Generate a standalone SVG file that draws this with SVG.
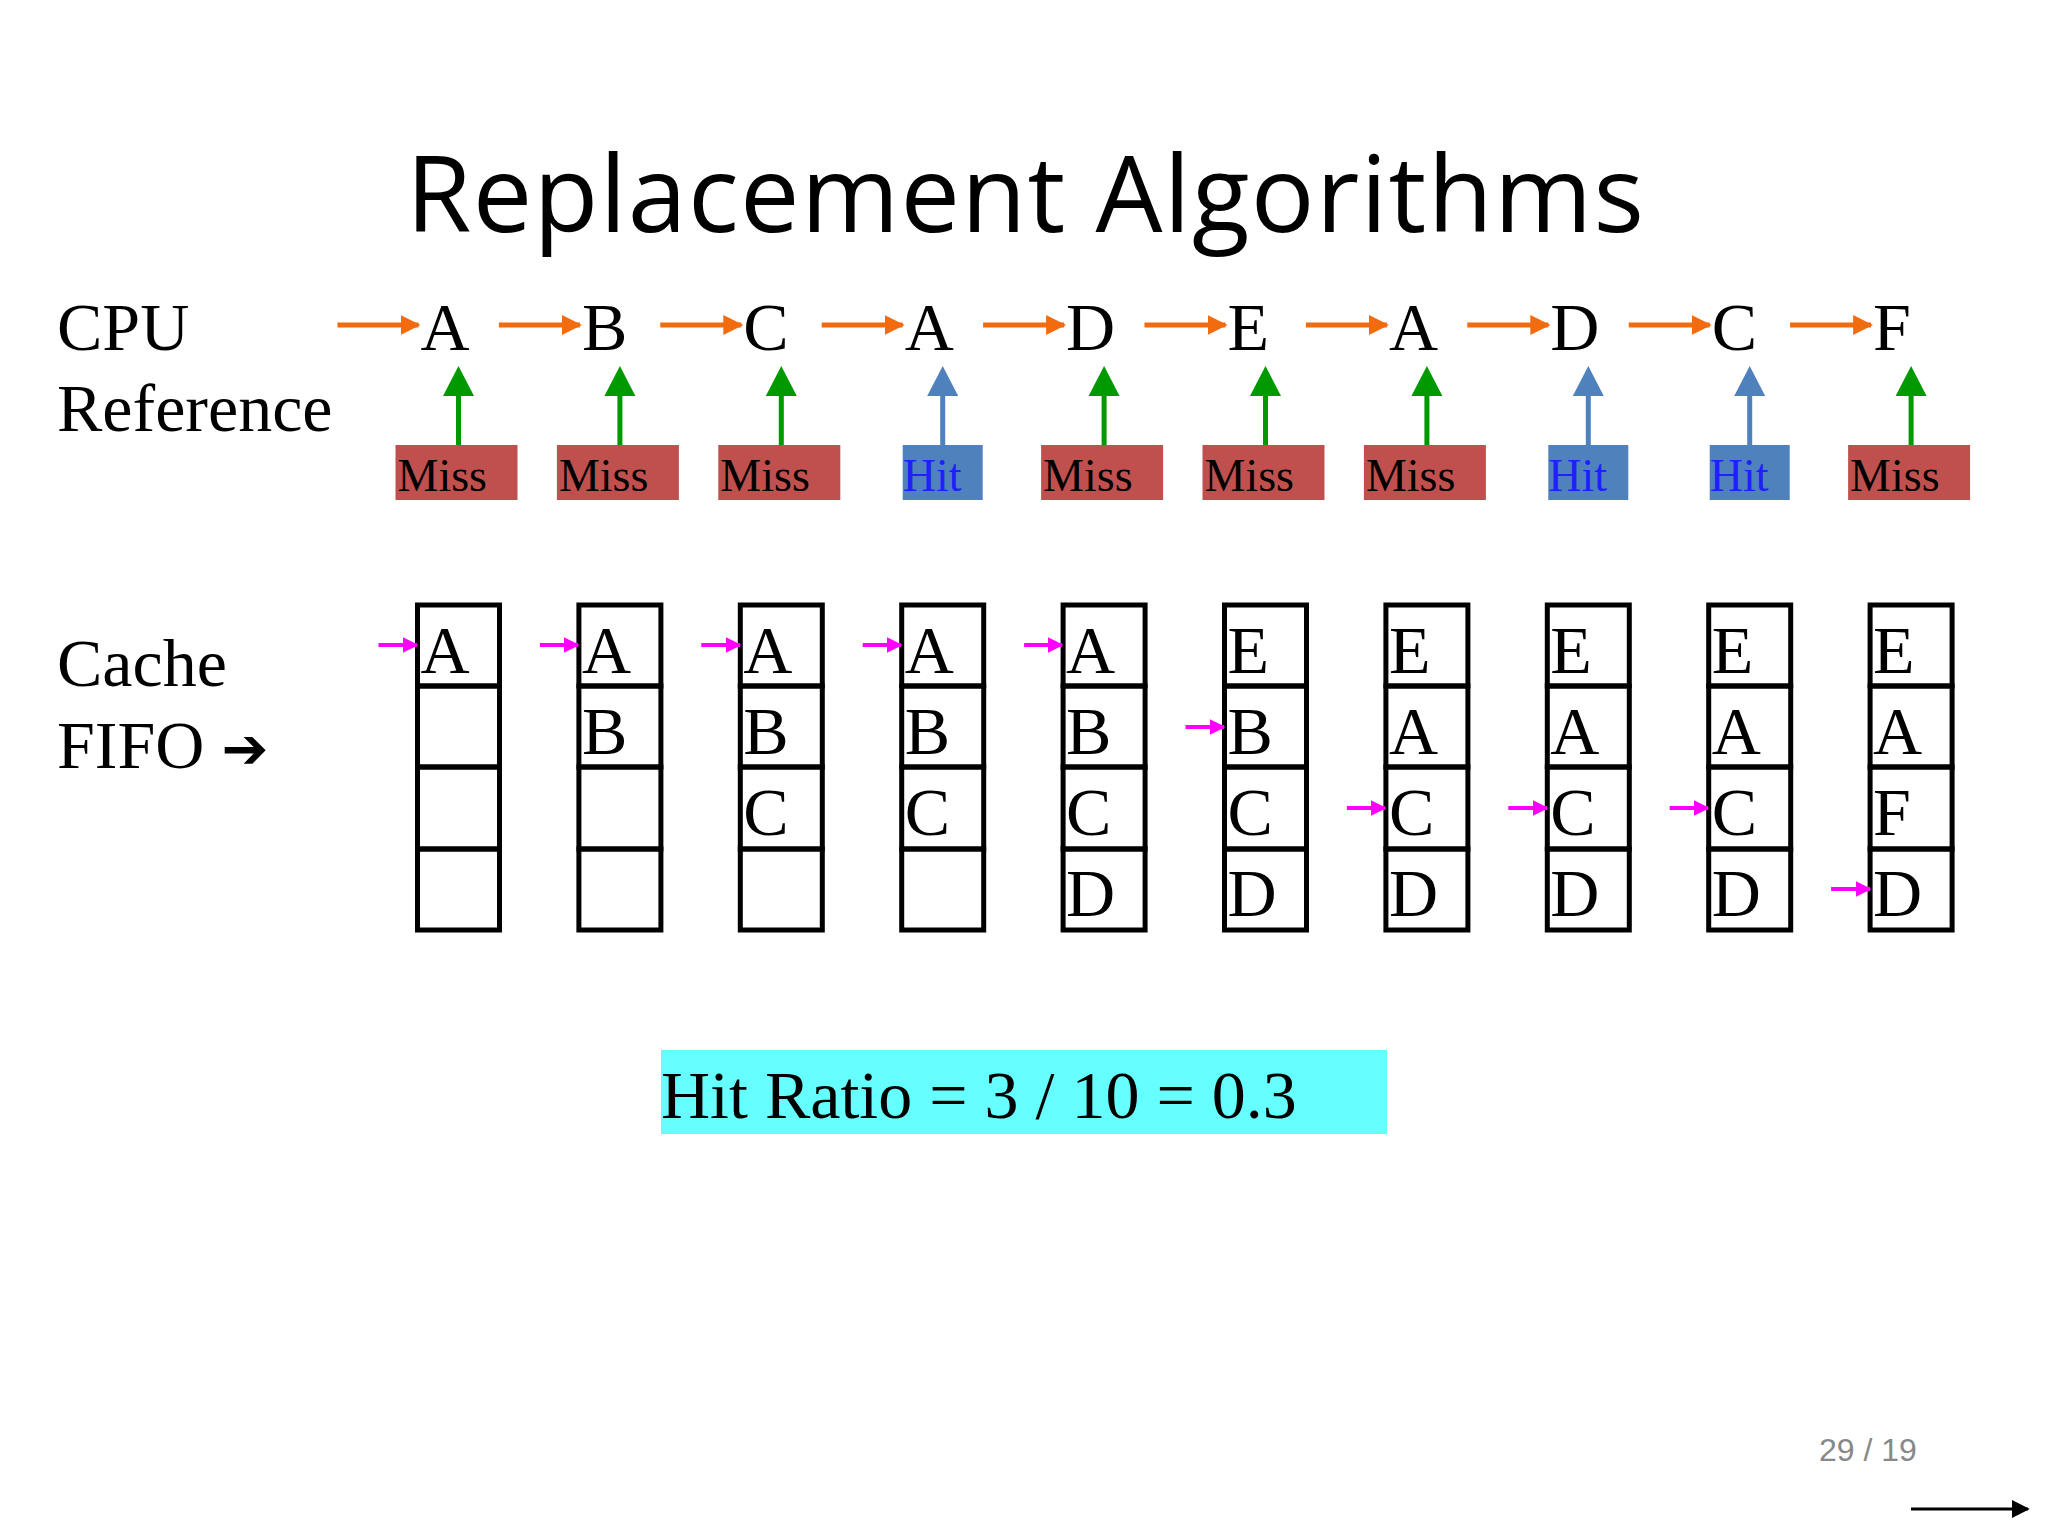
<svg xmlns="http://www.w3.org/2000/svg" width="2048" height="1536" viewBox="0 0 2048 1536">
<defs>
<style>
.t{font-family:"Liberation Serif",serif;fill:#000}
.big{font-size:68px}
.lbl{font-size:46px}
.cell{fill:none;stroke:#000;stroke-width:5}
.miss{fill:#c0504d}
.hit{fill:#4f81bd}
</style>
<marker id="ho" viewBox="0 0 10 10" refX="9" refY="5" markerWidth="4" markerHeight="4" orient="auto"><path d="M0,0L10,5L0,10z" fill="#f26b0f"/></marker>
<marker id="hm" viewBox="0 0 10 10" refX="9" refY="5" markerWidth="4" markerHeight="4" orient="auto"><path d="M0,0L10,5L0,10z" fill="#ff00ff"/></marker>
<marker id="hk" viewBox="0 0 10 10" refX="9" refY="5" markerWidth="6" markerHeight="6" orient="auto"><path d="M0,0L10,5L0,10z" fill="#000"/></marker>
</defs>
<rect width="2048" height="1536" fill="#fff"/>
<text x="1025" y="232" text-anchor="middle" font-family="Open Sans,sans-serif" font-size="106" textLength="1238" fill="#000">Replacement Algorithms</text>
<text class="t big" x="57" y="350">CPU</text>
<text class="t big" x="57" y="431">Reference</text>
<text class="t big" x="57" y="686">Cache</text>
<text class="t big" x="57" y="768">FIFO <tspan font-family="DejaVu Sans,sans-serif" font-size="56">➔</tspan></text>
<g id="cols">
<g id="c0" transform="translate(458.5,0)"><text class="t big" x="-38" y="350">A</text><rect class="miss" x="-63" y="445" width="122" height="55"/><text class="t lbl" x="-61" y="491">Miss</text></g>
<g id="c1" transform="translate(619.9,0)"><text class="t big" x="-38" y="350">B</text><rect class="miss" x="-63" y="445" width="122" height="55"/><text class="t lbl" x="-61" y="491">Miss</text></g>
<g id="c2" transform="translate(781.3,0)"><text class="t big" x="-38" y="350">C</text><rect class="miss" x="-63" y="445" width="122" height="55"/><text class="t lbl" x="-61" y="491">Miss</text></g>
<g id="c3" transform="translate(942.7,0)"><text class="t big" x="-38" y="350">A</text><rect class="hit" x="-40" y="445" width="80" height="55"/><text class="t lbl" x="-40" y="491" style="fill:#2020ff">Hit</text></g>
<g id="c4" transform="translate(1104.1,0)"><text class="t big" x="-38" y="350">D</text><rect class="miss" x="-63" y="445" width="122" height="55"/><text class="t lbl" x="-61" y="491">Miss</text></g>
<g id="c5" transform="translate(1265.5,0)"><text class="t big" x="-38" y="350">E</text><rect class="miss" x="-63" y="445" width="122" height="55"/><text class="t lbl" x="-61" y="491">Miss</text></g>
<g id="c6" transform="translate(1426.9,0)"><text class="t big" x="-38" y="350">A</text><rect class="miss" x="-63" y="445" width="122" height="55"/><text class="t lbl" x="-61" y="491">Miss</text></g>
<g id="c7" transform="translate(1588.3,0)"><text class="t big" x="-38" y="350">D</text><rect class="hit" x="-40" y="445" width="80" height="55"/><text class="t lbl" x="-40" y="491" style="fill:#2020ff">Hit</text></g>
<g id="c8" transform="translate(1749.7,0)"><text class="t big" x="-38" y="350">C</text><rect class="hit" x="-40" y="445" width="80" height="55"/><text class="t lbl" x="-40" y="491" style="fill:#2020ff">Hit</text></g>
<g id="c9" transform="translate(1911.1,0)"><text class="t big" x="-38" y="350">F</text><rect class="miss" x="-63" y="445" width="122" height="55"/><text class="t lbl" x="-61" y="491">Miss</text></g>
</g>
<g id="caches" class="t big">
<g id="k0" transform="translate(458.5,0)"><rect class="cell" x="-41" y="605" width="82" height="81"/><rect class="cell" x="-41" y="686" width="82" height="81"/><rect class="cell" x="-41" y="767" width="82" height="82"/><rect class="cell" x="-41" y="849" width="82" height="81"/><text x="-38" y="673">A</text></g>
<g id="k1" transform="translate(619.9,0)"><rect class="cell" x="-41" y="605" width="82" height="81"/><rect class="cell" x="-41" y="686" width="82" height="81"/><rect class="cell" x="-41" y="767" width="82" height="82"/><rect class="cell" x="-41" y="849" width="82" height="81"/><text x="-38" y="673">A</text><text x="-38" y="754">B</text></g>
<g id="k2" transform="translate(781.3,0)"><rect class="cell" x="-41" y="605" width="82" height="81"/><rect class="cell" x="-41" y="686" width="82" height="81"/><rect class="cell" x="-41" y="767" width="82" height="82"/><rect class="cell" x="-41" y="849" width="82" height="81"/><text x="-38" y="673">A</text><text x="-38" y="754">B</text><text x="-38" y="835">C</text></g>
<g id="k3" transform="translate(942.7,0)"><rect class="cell" x="-41" y="605" width="82" height="81"/><rect class="cell" x="-41" y="686" width="82" height="81"/><rect class="cell" x="-41" y="767" width="82" height="82"/><rect class="cell" x="-41" y="849" width="82" height="81"/><text x="-38" y="673">A</text><text x="-38" y="754">B</text><text x="-38" y="835">C</text></g>
<g id="k4" transform="translate(1104.1,0)"><rect class="cell" x="-41" y="605" width="82" height="81"/><rect class="cell" x="-41" y="686" width="82" height="81"/><rect class="cell" x="-41" y="767" width="82" height="82"/><rect class="cell" x="-41" y="849" width="82" height="81"/><text x="-38" y="673">A</text><text x="-38" y="754">B</text><text x="-38" y="835">C</text><text x="-38" y="916">D</text></g>
<g id="k5" transform="translate(1265.5,0)"><rect class="cell" x="-41" y="605" width="82" height="81"/><rect class="cell" x="-41" y="686" width="82" height="81"/><rect class="cell" x="-41" y="767" width="82" height="82"/><rect class="cell" x="-41" y="849" width="82" height="81"/><text x="-38" y="673">E</text><text x="-38" y="754">B</text><text x="-38" y="835">C</text><text x="-38" y="916">D</text></g>
<g id="k6" transform="translate(1426.9,0)"><rect class="cell" x="-41" y="605" width="82" height="81"/><rect class="cell" x="-41" y="686" width="82" height="81"/><rect class="cell" x="-41" y="767" width="82" height="82"/><rect class="cell" x="-41" y="849" width="82" height="81"/><text x="-38" y="673">E</text><text x="-38" y="754">A</text><text x="-38" y="835">C</text><text x="-38" y="916">D</text></g>
<g id="k7" transform="translate(1588.3,0)"><rect class="cell" x="-41" y="605" width="82" height="81"/><rect class="cell" x="-41" y="686" width="82" height="81"/><rect class="cell" x="-41" y="767" width="82" height="82"/><rect class="cell" x="-41" y="849" width="82" height="81"/><text x="-38" y="673">E</text><text x="-38" y="754">A</text><text x="-38" y="835">C</text><text x="-38" y="916">D</text></g>
<g id="k8" transform="translate(1749.7,0)"><rect class="cell" x="-41" y="605" width="82" height="81"/><rect class="cell" x="-41" y="686" width="82" height="81"/><rect class="cell" x="-41" y="767" width="82" height="82"/><rect class="cell" x="-41" y="849" width="82" height="81"/><text x="-38" y="673">E</text><text x="-38" y="754">A</text><text x="-38" y="835">C</text><text x="-38" y="916">D</text></g>
<g id="k9" transform="translate(1911.1,0)"><rect class="cell" x="-41" y="605" width="82" height="81"/><rect class="cell" x="-41" y="686" width="82" height="81"/><rect class="cell" x="-41" y="767" width="82" height="82"/><rect class="cell" x="-41" y="849" width="82" height="81"/><text x="-38" y="673">E</text><text x="-38" y="754">A</text><text x="-38" y="835">F</text><text x="-38" y="916">D</text></g>
</g>
<g id="connectors" stroke-width="5" fill="none">
<g stroke="#f26b0f" marker-end="url(#ho)">
<path d="M337.5 325H418.5"/><path d="M498.9 325H579.9"/><path d="M660.3 325H741.3"/><path d="M821.7 325H902.7"/><path d="M983.1 325H1064.1"/><path d="M1144.5 325H1225.5"/><path d="M1305.9 325H1386.9"/><path d="M1467.3 325H1548.3"/><path d="M1628.7 325H1709.7"/><path d="M1790.1 325H1871.1"/>
</g>
<g stroke="#009900">
<path d="M458.5 445V390"/><path d="M619.9 445V390"/><path d="M781.3 445V390"/><path d="M1104.1 445V390"/><path d="M1265.5 445V390"/><path d="M1426.9 445V390"/><path d="M1911.1 445V390"/>
</g>
<g fill="#009900" stroke="none">
<path d="M443 396L458.5 366L474 396z"/><path d="M604.4 396L619.9 366L635.4 396z"/><path d="M765.8 396L781.3 366L796.8 396z"/><path d="M1088.6 396L1104.1 366L1119.6 396z"/><path d="M1250 396L1265.5 366L1281 396z"/><path d="M1411.4 396L1426.9 366L1442.4 396z"/><path d="M1895.6 396L1911.1 366L1926.6 396z"/>
</g>
<g stroke="#4f81bd"><path d="M942.7 445V390"/><path d="M1588.3 445V390"/><path d="M1749.7 445V390"/></g>
<g fill="#4f81bd" stroke="none"><path d="M927.2 396L942.7 366L958.2 396z"/><path d="M1572.8 396L1588.3 366L1603.8 396z"/><path d="M1734.2 396L1749.7 366L1765.2 396z"/></g>
<g stroke="#ff00ff" stroke-width="4" marker-end="url(#hm)">
<path d="M378.5 645H417"/><path d="M539.9 645H578"/><path d="M701.3 645H740"/><path d="M862.7 645H901"/><path d="M1024.1 645H1062"/><path d="M1185.5 727H1224"/><path d="M1346.9 808H1385"/><path d="M1508.3 808H1547"/><path d="M1669.7 808H1708"/><path d="M1831.1 889H1870"/>
</g>
<path d="M1911 1509H2028" stroke="#000" stroke-width="3" marker-end="url(#hk)"/>
</g>
<rect x="661" y="1050" width="726" height="84" fill="#66ffff"/>
<text class="t big" x="661" y="1118">Hit Ratio = 3 / 10 = 0.3</text>
<text x="1819" y="1461" font-family="Liberation Sans,sans-serif" font-size="32" fill="#888">29 / 19</text>
</svg>
